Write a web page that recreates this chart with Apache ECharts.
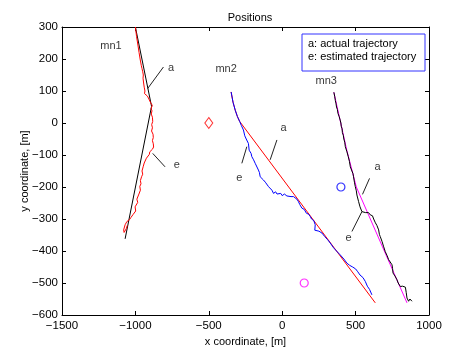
<!DOCTYPE html>
<html>
<head>
<meta charset="utf-8">
<script src="https://cdn.jsdelivr.net/npm/echarts@6/dist/echarts.min.js"></script>
<style>html,body{margin:0;padding:0;background:#fff}#c{width:474px;height:355px}</style>
</head>
<body>
<div id="c"></div>
<script>
// ---- axis ticks ----
const xTicks = [-1500, -1000, -500, 0, 500, 1000];
const yTicks = [-600, -500, -400, -300, -200, -100, 0, 100, 200, 300];

// ---- mn1 ----
const mn1ActualX = [-1000, -890, -1070];
const mn1ActualY = [300, 52, -362];
const mn1EstX = [-1000, -992, -985, -975, -968, -960, -955, -950, -946, -948, -944, -940, -935, -938, -930, -925, -918, -912, -905, -898, -885, -893, -887, -892, -884, -882, -889, -884, -890, -880, -878, -884, -878, -876, -884, -888, -896, -902, -905, -912, -918, -925, -932, -936, -940, -946, -955, -950, -958, -966, -962, -970, -966, -976, -985, -990, -984, -996, -1002, -998, -1010, -1016, -1025, -1030, -1040, -1048, -1058, -1065, -1070, -1082, -1080, -1077, -1068, -1062, -1055];
const mn1EstY = [300, 270, 250, 220, 200, 180, 170, 160, 150, 140, 125, 112, 100, 92, 90, 88, 84, 78, 72, 65, 55, 45, 38, 28, 18, 5, -5, -15, -25, -35, -45, -55, -65, -75, -82, -88, -82, -90, -98, -95, -102, -110, -104, -115, -125, -135, -150, -160, -168, -180, -190, -198, -210, -222, -228, -238, -248, -252, -262, -275, -280, -286, -288, -295, -302, -304, -308, -312, -318, -324, -334, -342, -340, -330, -320];

// ---- mn2 ----
const mn2ActualX = [-348, -335, -320, -305, -290, 634];
const mn2ActualY = [97, 65, 40, 20, 5, -562];
const mn2EstX = [-348, -335, -320, -305, -290, -278, -264, -255, -245, -230, -225, -212, -207, -195, -184, -175, -162, -155, -150, -138, -128, -115, -108, -93, -80, -70, -59, -45, -35, -25, -10, 0, 15, 32, 45, 60, 77, 89, 100, 111, 120, 134, 150, 165, 180, 191, 200, 215, 225, 222, 235, 250, 271, 290, 310, 327, 350, 370, 395, 420, 441, 460, 480, 500, 515, 530, 550, 566, 580, 595, 611];
const mn2EstY = [97, 65, 40, 20, 5, -8, -22, -40, -50, -64, -85, -95, -105, -115, -126, -130, -147, -155, -168, -170, -178, -185, -182, -199, -205, -210, -220, -215, -222, -225, -220, -227, -222, -228, -225, -230, -230, -226, -238, -246, -255, -266, -270, -282, -285, -292, -300, -305, -318, -335, -340, -338, -344, -355, -365, -375, -390, -400, -412, -425, -438, -445, -450, -456, -465, -475, -483, -495, -510, -520, -537];

// ---- mn3 ----
const mn3ActualX = [352, 440, 505, 850];
const mn3ActualY = [96, -85, -200, -562];
const mn3EstX = [352, 358, 362, 366, 370, 376, 380, 388, 395, 400, 402, 408, 410, 416, 420, 426, 430, 436, 441, 446, 450, 458, 464, 470, 475, 482, 486, 492, 498, 505, 509, 520, 530, 543, 555, 568, 580, 588, 600, 615, 623, 635, 645, 657, 662, 668, 680, 690, 702, 715, 725, 735, 748, 752, 755, 768, 782, 790, 805, 820, 839, 845, 850, 861, 870, 884];
const mn3EstY = [96, 82, 70, 62, 50, 42, 30, 20, 9, 0, -10, -18, -30, -38, -50, -60, -74, -80, -90, -96, -105, -120, -137, -142, -150, -158, -168, -185, -199, -212, -225, -245, -262, -277, -272, -280, -276, -280, -287, -290, -300, -312, -320, -334, -348, -355, -370, -385, -402, -415, -427, -432, -443, -455, -469, -478, -490, -500, -511, -510, -513, -530, -547, -557, -550, -557];

// ---- node markers ----
const diamondPt = [-500, 0];
const bluePt = [400, -200];
const magentaPt = [150, -500];

// ---- annotations (data coordinates) ----
const nodeLabels = ['mn1', 'mn2', 'mn3'];
const nodeLabelX = [-1166, -382, 300];
const nodeLabelY = [240, 168, 131];
const tagText = ['a', 'e', 'a', 'e', 'a', 'e'];
const tagX = [-757, -718, 9, -293, 650, 452];
const tagY = [171, -131, -17, -173, -138, -360];
const ptrX1 = [-809, -798, -36, -275, 595, 475];
const ptrY1 = [175, -137, -53, -126, -173, -339];
const ptrX2 = [-916, -882, -82, -241, 547, 543];
const ptrY2 = [108, -95, -115, -74, -223, -277];

const legendLines = ['a: actual trajectory', 'e: estimated trajectory'];

const FONT = 'Liberation Sans, Arial, Helvetica, sans-serif';
const zip = (xs, ys) => xs.map((x, i) => [x, ys[i]]);
const fmt = v => (v < 0 ? '\u2212' + Math.abs(v) : String(v));

function lineSeries(xs, ys, color, z) {
  return { type: 'line', data: zip(xs, ys), symbol: 'none', silent: true, z: z,
    lineStyle: { color: color, width: 1 }, animation: false };
}

const series = [
  lineSeries(mn1ActualX, mn1ActualY, '#000000', 2),
  lineSeries(mn1EstX, mn1EstY, '#ff0000', 3),
  lineSeries(mn2ActualX, mn2ActualY, '#ff0000', 2),
  lineSeries(mn2EstX, mn2EstY, '#0000ff', 3),
  lineSeries(mn3ActualX, mn3ActualY, '#ff00ff', 2),
  lineSeries(mn3EstX, mn3EstY, '#000000', 3),
  { type: 'scatter', data: [diamondPt], symbol: 'diamond', symbolSize: [8, 11], silent: true, animation: false,
    itemStyle: { color: 'rgba(0,0,0,0)', borderColor: '#ff0000', borderWidth: 1 } },
  { type: 'scatter', data: [bluePt], symbol: 'circle', symbolSize: 8, silent: true, animation: false,
    itemStyle: { color: 'rgba(0,0,0,0)', borderColor: '#0000ff', borderWidth: 1.2 } },
  { type: 'scatter', data: [magentaPt], symbol: 'circle', symbolSize: 8, silent: true, animation: false,
    itemStyle: { color: 'rgba(0,0,0,0)', borderColor: '#ff00ff', borderWidth: 1.2 } }
];

// pointer lines
ptrX1.forEach((x1, i) => {
  series.push({ type: 'line', data: [[x1, ptrY1[i]], [ptrX2[i], ptrY2[i]]], symbol: 'none', silent: true,
    animation: false, lineStyle: { color: '#222222', width: 1 }, z: 4 });
});

// text annotations
series.push({
  type: 'scatter', symbolSize: 0, silent: true, animation: false, z: 5,
  data: nodeLabels.map((t, i) => ({ value: [nodeLabelX[i], nodeLabelY[i]], name: t }))
    .concat(tagText.map((t, i) => ({ value: [tagX[i], tagY[i]], name: t }))),
  label: { show: true, position: 'inside', formatter: p => p.name, color: '#000', fontSize: 11, fontFamily: FONT }
});

const axisCommon = {
  axisLine: { show: true, onZero: false, lineStyle: { color: '#000', width: 1 } },
  axisTick: { show: true, inside: true, length: 4, lineStyle: { color: '#000' } },
  splitLine: { show: false }
};

const option = {
  animation: false,
  backgroundColor: '#ffffff',
  title: { text: 'Positions', left: 245, top: 7, textAlign: 'center',
    textStyle: { fontSize: 11, fontWeight: 'normal', color: '#000', fontFamily: FONT } },
  grid: { left: 62, right: 45, top: 27, bottom: 40, containLabel: false },
  xAxis: [
    Object.assign({ type: 'value', position: 'bottom', min: xTicks[0], max: xTicks[xTicks.length - 1], interval: 500,
      name: 'x coordinate, [m]', nameLocation: 'middle', nameGap: 21, nameMoveOverlap: false,
      nameTextStyle: { fontSize: 11, color: '#000', fontFamily: FONT },
      axisLabel: { fontSize: 11.5, color: '#000', margin: 5, fontFamily: FONT, formatter: fmt } }, axisCommon),
    Object.assign({ type: 'value', position: 'top', min: xTicks[0], max: xTicks[xTicks.length - 1], interval: 500,
      axisLabel: { show: false } }, axisCommon)
  ],
  yAxis: [
    Object.assign({ type: 'value', position: 'left', min: yTicks[0], max: yTicks[yTicks.length - 1], interval: 100,
      name: 'y coordinate, [m]', nameLocation: 'middle', nameGap: 32, nameRotate: 90, nameMoveOverlap: false,
      nameTextStyle: { fontSize: 11, color: '#000', fontFamily: FONT },
      axisLabel: { fontSize: 11.5, color: '#000', margin: 4, fontFamily: FONT, formatter: fmt } }, axisCommon),
    Object.assign({ type: 'value', position: 'right', min: yTicks[0], max: yTicks[yTicks.length - 1], interval: 100,
      axisLabel: { show: false } }, axisCommon)
  ],
  graphic: [
    { type: 'rect', shape: { x: 302, y: 34, width: 123, height: 37 }, z: 10,
      style: { fill: '#fff', stroke: '#3333ff', lineWidth: 1 } },
    { type: 'text', x: 308, y: 44, z: 11,
      style: { text: legendLines[0], fill: '#000', font: '11px ' + FONT, textVerticalAlign: 'middle' } },
    { type: 'text', x: 308, y: 57, z: 11,
      style: { text: legendLines[1], fill: '#000', font: '11px ' + FONT, textVerticalAlign: 'middle' } }
  ],
  series: series
};

const chart = echarts.init(document.getElementById('c'), null, { renderer: 'canvas' });
chart.setOption(option);
</script>
</body>
</html>
